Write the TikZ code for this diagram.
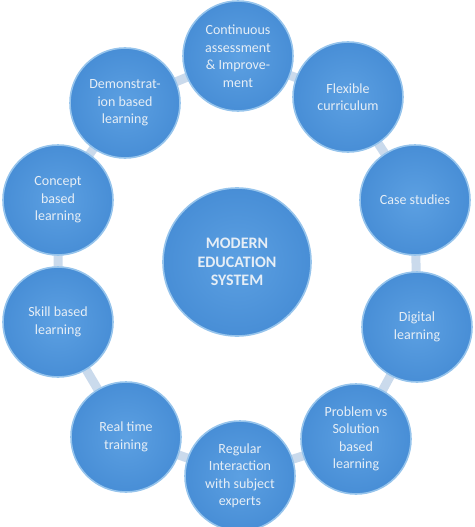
\documentclass[tikz,border=0pt]{standalone}
\usepackage{fontspec}
\setmainfont{Carlito}
\definecolor{bodyblue}{RGB}{72,142,214}
\definecolor{innerblue}{RGB}{92,160,226}
\definecolor{rimblue}{RGB}{150,196,236}
\definecolor{linkgray}{RGB}{202,218,236}
\definecolor{txt}{RGB}{230,238,246}
\begin{document}
\begin{tikzpicture}[x=1pt,y=-1pt,
  bubble/.style={circle, minimum size=110pt, inner sep=0pt, align=center,
    inner color=innerblue, outer color=bodyblue, draw=rimblue, line width=1.6pt,
    text=txt, font=\fontsize{14}{17.5}\selectfont},
  hub/.style={bubble, minimum size=148pt, font=\fontsize{16}{18.5}\bfseries\selectfont},
  link/.style={draw=linkgray, line width=9pt}]
\useasboundingbox (0,0) rectangle (474,527);
\coordinate (p1) at (238,56);
\coordinate (p2) at (348,97);
\coordinate (p3) at (415,200);
\coordinate (p4) at (417,327);
\coordinate (p5) at (356,439);
\coordinate (p6) at (240,476);
\coordinate (p7) at (126,437);
\coordinate (p8) at (58,322);
\coordinate (p9) at (58,200);
\coordinate (p10) at (125,103);
\draw[link] (p1) -- (p2) -- (p3) -- (p4) -- (p5) -- (p6) -- (p7) -- (p8) -- (p9) -- (p10) -- cycle;
\node[bubble] (n1) at (p1) {Continuous\\assessment\\\& Improve-\\ment};
\node[bubble] (n2) at (p2) {Flexible\\curriculum};
\node[bubble] (n3) at (p3) {Case studies};
\node[bubble] (n4) at (p4) {Digital\\learning};
\node[bubble] (n5) at (p5) {Problem vs\\Solution\\based\\learning};
\node[bubble] (n6) at (p6) {Regular\\Interaction\\with subject\\experts};
\node[bubble] (n7) at (p7) {Real time\\training};
\node[bubble] (n8) at (p8) {Skill based\\learning};
\node[bubble] (n9) at (p9) {Concept\\based\\learning};
\node[bubble] (n10) at (p10) {Demonstrat-\\ion based\\learning};
\node[hub] (c) at (237,262) {MODERN\\EDUCATION\\SYSTEM};
\end{tikzpicture}
\end{document}
